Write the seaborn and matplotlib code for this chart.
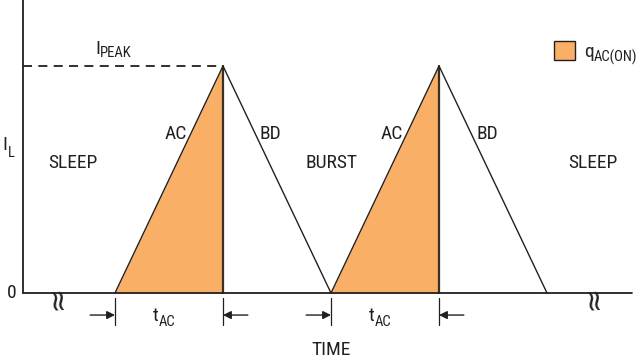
import matplotlib
matplotlib.use("Agg")
import matplotlib.pyplot as plt
import seaborn as sns
import pandas as pd
from matplotlib.patches import Patch

# ---- data ----
time_pts = [1, 2, 3, 4, 5]          # in units of t_AC
current_pts = [0, 1, 0, 1, 0]       # normalised to I_PEAK
ac_starts = [1, 3]
ac_peaks = [2, 4]
axis_start = 0.148
axis_end = 5.787
break_marks = [0.458, 5.421]
phase_labels = ["SLEEP", "BURST", "SLEEP"]
phase_x = [0.611, 3.0, 5.426]
ac_label_x = [1.565, 3.565]
bd_label_x = [2.435, 4.444]

sns.set_theme(style="white")
FAM = ["Liberation Sans Narrow", "Roboto Condensed", "Archivo Narrow",
       "IBM Plex Sans Condensed", "DejaVu Sans"]
plt.rcParams["font.family"] = FAM

INK = "#231f20"
FILL = "#f9b066"
FS = 14
SUB = 10.5

fig = plt.figure(figsize=(6.4, 3.6), dpi=100)
ax = fig.add_axes([0, 0, 1, 1])
ax.set_xlim(-0.0648, 5.861)
ax.set_ylim(-0.295, 1.2907)
ax.axis("off")


def sub_label(x, y, main, sub, ha="left", drop=3.0):
    t = ax.text(x, y, main, ha=ha, va="center", fontsize=FS, color=INK)
    ax.annotate(sub, xy=(1, 0), xycoords=t, xytext=(0.3, -drop),
                textcoords="offset points", ha="left", va="bottom",
                fontsize=SUB, color=INK)
    return t


# fills (q_AC(ON))
for s, p in zip(ac_starts, ac_peaks):
    ax.fill_between([s, p], [0, 0], [0, 1], color=FILL, lw=0, zorder=1)
    ax.plot([p, p], [0, 1], color="#3b3024", lw=1.6, zorder=3)

# waveform
df = pd.DataFrame({"t": time_pts, "i": current_pts})
sns.lineplot(data=df, x="t", y="i", ax=ax, color=INK, lw=1.0, zorder=4)

# axes lines
ax.plot([axis_start, axis_start], [0, 1.2907], color=INK, lw=1.3, zorder=4)
ax.plot([axis_start, axis_end], [0, 0], color=INK, lw=1.3, zorder=4)

# dashed peak line
ax.plot([axis_start, ac_peaks[0]], [1, 1], color=INK, lw=1.3, ls=(0, (5, 3.5)), zorder=4)

# break marks
for bx in break_marks:
    ax.text(bx, -0.02, "≈", rotation=95, ha="center", va="center", fontsize=21,
            color=INK, family=["DejaVu Sans"], zorder=5)

# dimension lines
yd = -0.097
for s, p in zip(ac_starts, ac_peaks):
    for xx in (s, p):
        ax.plot([xx, xx], [-0.022, -0.141], color=INK, lw=0.9)
    ax.annotate("", xy=(s, yd), xytext=(s - 0.23, yd),
                arrowprops=dict(arrowstyle="-|>", color=INK, lw=1.0,
                                shrinkA=0, shrinkB=0, mutation_scale=12))
    ax.annotate("", xy=(p, yd), xytext=(p + 0.23, yd),
                arrowprops=dict(arrowstyle="-|>", color=INK, lw=1.0,
                                shrinkA=0, shrinkB=0, mutation_scale=12))
    sub_label(s + 0.35, -0.099, "t", "AC", drop=3.5)

# labels
for lab, x in zip(phase_labels, phase_x):
    ax.text(x, 0.573, lab, ha="center", va="center", fontsize=FS, color=INK)
for x in ac_label_x:
    ax.text(x, 0.70, "AC", ha="center", va="center", fontsize=FS, color=INK)
for x in bd_label_x:
    ax.text(x, 0.70, "BD", ha="center", va="center", fontsize=FS, color=INK)
sub_label(0.815, 1.077, "I", "PEAK", drop=2.0)
sub_label(-0.04, 0.652, "I", "L", drop=4.0)
ax.text(0.046, 0.0, "0", ha="center", va="center", fontsize=FS, color=INK)
ax.text(3.0, -0.251, "TIME", ha="center", va="center", fontsize=FS, color=INK)

# legend
handle = Patch(facecolor=FILL, edgecolor=INK, lw=1.0)
leg = ax.legend([handle], ["q"], loc="upper left",
                bbox_to_anchor=(0.866, 0.885), frameon=False, fontsize=FS,
                handlelength=1.08, handleheight=1.12, handletextpad=0.45,
                borderaxespad=0.0, borderpad=0.0)
leg.set_zorder(5)
ax.annotate("AC(ON)", xy=(1, 0), xycoords=leg.get_texts()[0], xytext=(0.3, -2.5),
            textcoords="offset points", ha="left", va="bottom", fontsize=SUB,
            color=INK, zorder=10)

fig.savefig("out.png", dpi=100)
